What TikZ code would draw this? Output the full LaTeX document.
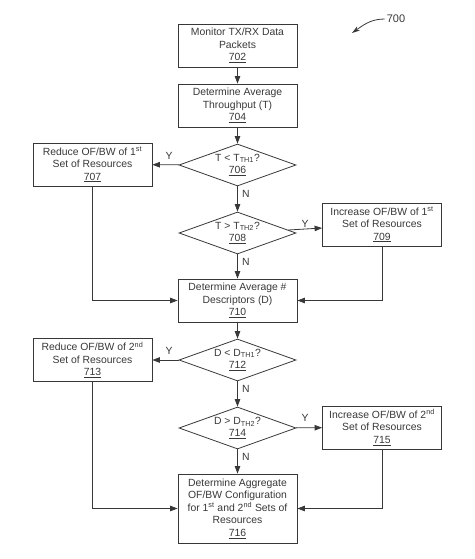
\documentclass[tikz,border=0pt]{standalone}
\usepackage{fontspec}
\setmainfont{Liberation Sans}
\usetikzlibrary{shapes.geometric,arrows.meta}
\definecolor{ink}{HTML}{383838}
\begin{document}
\begin{tikzpicture}[x=1pt,y=-1pt,
  every node/.style={text=ink,font=\fontsize{10.4}{12.5}\selectfont},
  procbox/.style={draw=ink,line width=0.8pt,rectangle,minimum width=119pt,minimum height=43pt,align=center,inner sep=1pt},
  decbox/.style={draw=ink,line width=0.8pt,diamond,minimum width=117pt,minimum height=42pt,aspect=2.8,inner sep=0pt,align=center},
  flow/.style={draw=ink,line width=0.8pt,-{Triangle[length=7.5pt,width=5.5pt]}},
  lbl/.style={inner sep=0pt}]
\useasboundingbox (0,0) rectangle (474,559);
\node[procbox] (n702) at (237.5,45.5) {Monitor TX/RX Data\\Packets\\\underline{702}};
\node[procbox] (n704) at (237.5,105.5) {Determine Average\\Throughput (T)\\\underline{704}};
\node[decbox] (n706) at (237.5,165) {T {\textless} T\textsubscript{TH1}?\\\underline{706}};
\node[procbox] (n707) at (92.5,164.5) {Reduce OF/BW of 1\textsuperscript{st}\\Set of Resources\\\underline{707}};
\node[decbox] (n708) at (237.5,233) {T {\textgreater} T\textsubscript{TH2}?\\\underline{708}};
\node[procbox] (n709) at (382,224.5) {Increase OF/BW of 1\textsuperscript{st}\\Set of Resources\\\underline{709}};
\node[procbox] (n710) at (237.5,300.5) {Determine Average \#\\Descriptors (D)\\\underline{710}};
\node[decbox] (n712) at (237.5,360) {D {\textless} D\textsubscript{TH1}?\\\underline{712}};
\node[procbox] (n713) at (92.5,360) {Reduce OF/BW of 2\textsuperscript{nd}\\Set of Resources\\\underline{713}};
\node[decbox] (n714) at (237.5,428) {D {\textgreater} D\textsubscript{TH2}?\\\underline{714}};
\node[procbox] (n715) at (382,427.5) {Increase OF/BW of 2\textsuperscript{nd}\\Set of Resources\\\underline{715}};
\node[procbox,minimum height=69pt] (n716) at (237.5,508.5) {Determine Aggregate\\OF/BW Configuration\\for 1\textsuperscript{st} and 2\textsuperscript{nd} Sets of\\Resources\\\underline{716}};
% reference label
\node[lbl,font=\fontsize{11}{13}\selectfont] (n700) at (396,19) {700};
\coordinate (a700) at (352,33);
\draw[draw=ink,line width=0.8pt,-{Stealth[length=8pt,width=5pt]}] (n700.west) ++(-2,0) to[out=180,in=35] (a700);
% connectors
\draw[flow] (n702) -- (n704);
\draw[flow] (n704) -- (n706);
\draw[flow] (n706) -- (n707);
\draw[flow] (n706) -- (n708);
\draw[flow] (n708) -- (n709);
\draw[flow] (n708) -- (n710);
\draw[flow] (n707.south) |- (n710.west);
\draw[flow] (n709.south) |- (n710.east);
\draw[flow] (n710) -- (n712);
\draw[flow] (n712) -- (n713);
\draw[flow] (n712) -- (n714);
\draw[flow] (n714) -- (n715);
\draw[flow] (n714) -- (n716);
\draw[flow] (n713.south) |- (n716.west);
\draw[flow] (n715.south) |- (n716.east);
% Y/N labels
\node[lbl] (y706) at (169,156) {Y};
\node[lbl] (nn706) at (246,194) {N};
\node[lbl] (y708) at (305,224) {Y};
\node[lbl] (nn708) at (246,262) {N};
\node[lbl] (y712) at (169,351) {Y};
\node[lbl] (nn712) at (246,389) {N};
\node[lbl] (y714) at (305,418) {Y};
\node[lbl] (nn714) at (246,457) {N};
\end{tikzpicture}
\end{document}
